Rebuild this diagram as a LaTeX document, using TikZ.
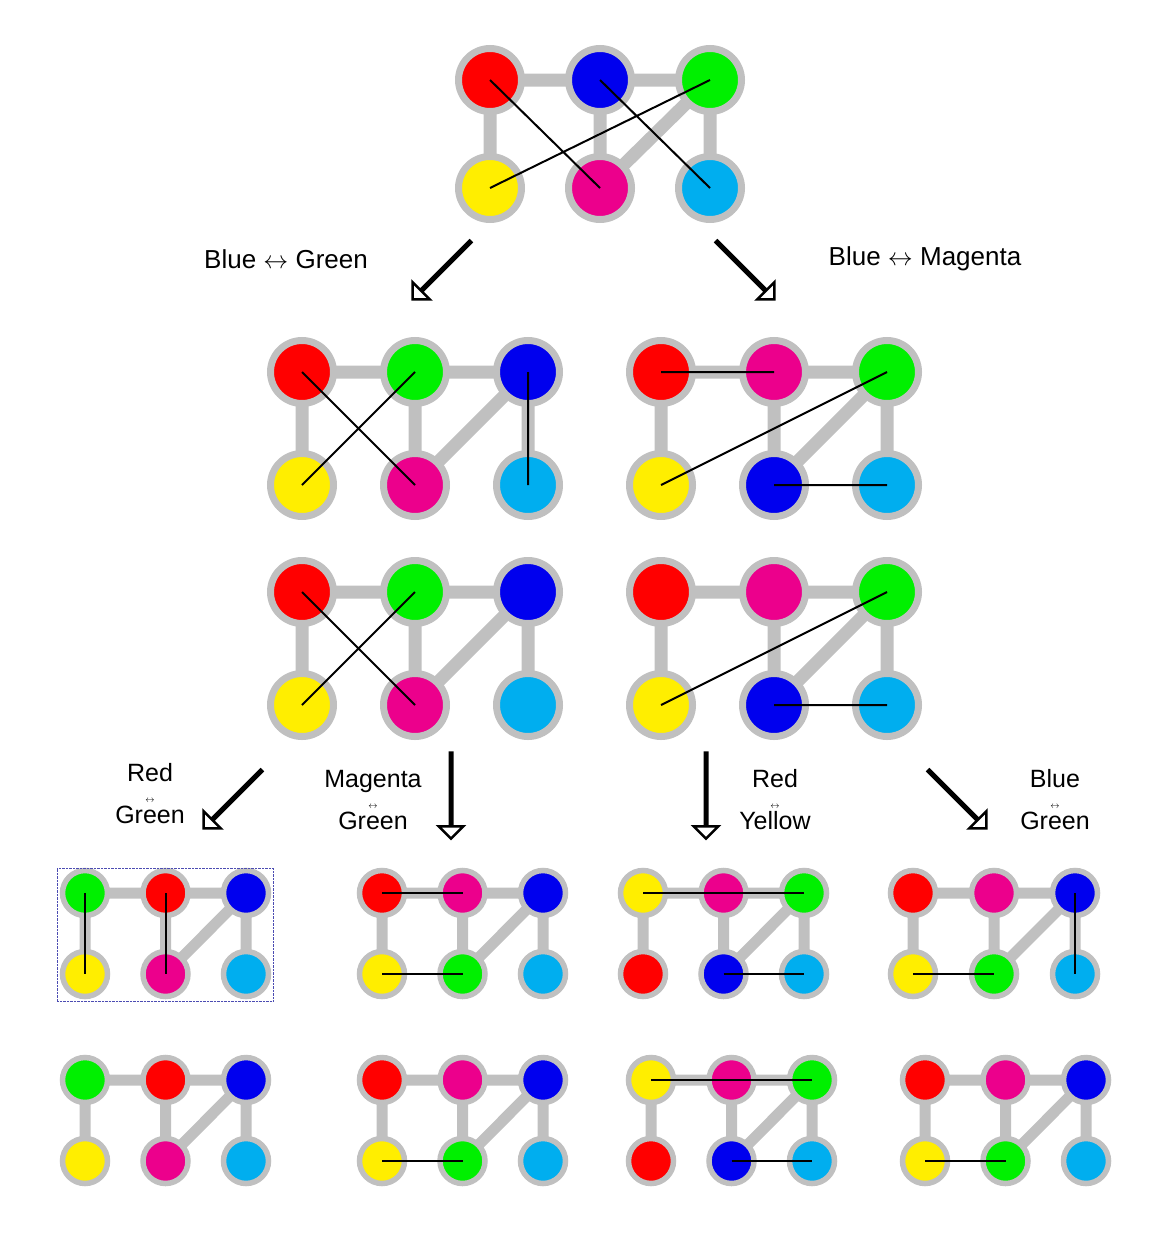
\documentclass[tikz,border=0pt]{standalone}
\usepackage{fontspec}
\setmainfont{Liberation Sans}
\usetikzlibrary{shapes.arrows}
\pgfdeclarelayer{background}
\pgfsetlayers{background,main}
\definecolor{cR}{HTML}{FF0000}
\definecolor{cB}{HTML}{0000EE}
\definecolor{cG}{HTML}{00F000}
\definecolor{cY}{HTML}{FFEE00}
\definecolor{cM}{HTML}{EC008C}
\definecolor{cC}{HTML}{00AEEF}
\definecolor{ring}{HTML}{C0C0C0}
\tikzset{
 big/.style={circle,draw=ring,line width=7pt,minimum size=63pt,inner sep=0pt},
 small/.style={circle,draw=ring,line width=5.5pt,minimum size=45pt,inner sep=0pt},
 link/.style={black,line width=2pt},
 barrow/.style={single arrow,draw=black,fill=white,line width=2.5pt,minimum height=82pt,minimum width=24pt,single arrow head extend=11pt,inner sep=0pt},
 lab/.style={font=\fontsize{26}{30}\selectfont,align=center},
 slab/.style={font=\fontsize{25}{27}\selectfont,align=center}
}
\newcommand\gr[8]{%
 \foreach \c [count=\i from 0] in {#7}{%
  \pgfmathsetmacro\cx{#2+mod(\i,3)*#4}\pgfmathsetmacro\cy{#3+int(\i/3)*#5}%
  \node[#6,fill=\c] (#1-\i) at (\cx,\cy) {};}
 \begin{pgfonlayer}{background}
 \draw[ring,line width=#8] (#1-0.center)--(#1-1.center)--(#1-2.center) (#1-0.center)--(#1-3.center) (#1-1.center)--(#1-4.center) (#1-2.center)--(#1-5.center) (#1-2.center)--(#1-4.center);
 \end{pgfonlayer}}
\newcommand\ar{\leftrightarrow}
\begin{document}
\begin{tikzpicture}[x=1pt,y=-1pt]
\useasboundingbox (0,0) rectangle (1151,1247);
\gr{t}{490}{80}{110}{108}{big}{cR,cB,cG,cY,cM,cC}{13pt}
\draw[link] (t-0.center)--(t-4.center) (t-1.center)--(t-5.center) (t-2.center)--(t-3.center);
\gr{a}{302}{372}{113}{113}{big}{cR,cG,cB,cY,cM,cC}{13pt}
\draw[link] (a-0.center)--(a-4.center) (a-1.center)--(a-3.center) (a-2.center)--(a-5.center);
\gr{b}{661}{372}{113}{113}{big}{cR,cM,cG,cY,cB,cC}{13pt}
\draw[link] (b-0.center)--(b-1.center) (b-2.center)--(b-3.center) (b-4.center)--(b-5.center);
\gr{c}{302}{592}{113}{113}{big}{cR,cG,cB,cY,cM,cC}{13pt}
\draw[link] (c-0.center)--(c-4.center) (c-1.center)--(c-3.center);
\gr{d}{661}{592}{113}{113}{big}{cR,cM,cG,cY,cB,cC}{13pt}
\draw[link] (d-2.center)--(d-3.center) (d-4.center)--(d-5.center);
% row 4
\gr{e}{85}{893}{80.5}{81}{small}{cG,cR,cB,cY,cM,cC}{11pt}
\draw[link] (e-0.center)--(e-3.center) (e-1.center)--(e-4.center);
\node[draw=blue!40!gray,densely dotted,thin,minimum width=216pt,minimum height=133pt,inner sep=0pt] (box) at (165,934.5) {};
\gr{f}{382}{893}{80.5}{81}{small}{cR,cM,cB,cY,cG,cC}{11pt}
\draw[link] (f-0.center)--(f-1.center) (f-3.center)--(f-4.center);
\gr{g}{643}{893}{80.5}{81}{small}{cY,cM,cG,cR,cB,cC}{11pt}
\draw[link] (g-0.center)--(g-2.center) (g-4.center)--(g-5.center);
\gr{h}{913}{893}{81}{81}{small}{cR,cM,cB,cY,cG,cC}{11pt}
\draw[link] (h-2.center)--(h-5.center) (h-3.center)--(h-4.center);
% row 5
\gr{i}{85}{1080}{80.5}{81}{small}{cG,cR,cB,cY,cM,cC}{11pt}
\gr{j}{382}{1080}{80.5}{81}{small}{cR,cM,cB,cY,cG,cC}{11pt}
\draw[link] (j-3.center)--(j-4.center);
\gr{k}{651}{1080}{80.5}{81}{small}{cY,cM,cG,cR,cB,cC}{11pt}
\draw[link] (k-0.center)--(k-2.center) (k-4.center)--(k-5.center);
\gr{l}{925}{1080}{80.5}{81}{small}{cR,cM,cB,cY,cG,cC}{11pt}
\draw[link] (l-3.center)--(l-4.center);
% arrows
\node[barrow,rotate=-135] (A1) at (442,270) {};
\node[barrow,rotate=-45] (A2) at (745,270) {};
\node[barrow,rotate=-135] (A3) at (233,799) {};
\node[barrow,rotate=-90,minimum height=86pt] (A4) at (451,795) {};
\node[barrow,rotate=-90,minimum height=86pt] (A5) at (706,795) {};
\node[barrow,rotate=-45] (A6) at (957,799) {};
% labels
\node[lab] (L1) at (286,259) {Blue $\ar$ Green};
\node[lab] (L2) at (925,259) {Blue $\ar$ Magenta};
\node[slab] (L3) at (150,794) {Red\\[-6pt]{\small$\ar$}\\[-6pt]Green};
\node[slab] (L4) at (373,800) {Magenta\\[-6pt]{\small$\ar$}\\[-6pt]Green};
\node[slab] (L5) at (775,800) {Red\\[-6pt]{\small$\ar$}\\[-6pt]Yellow};
\node[slab] (L6) at (1055,800) {Blue\\[-6pt]{\small$\ar$}\\[-6pt]Green};
\end{tikzpicture}
\end{document}
